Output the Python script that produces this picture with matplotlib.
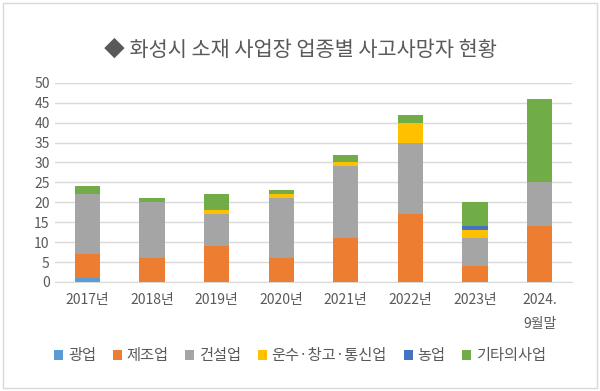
import numpy as np
import matplotlib.pyplot as plt
from matplotlib.patches import Rectangle

plt.rcParams['font.family'] = ['Noto Sans CJK KR', 'DejaVu Sans']

years = ['2017년', '2018년', '2019년', '2020년', '2021년', '2022년', '2023년', '2024.\n9월말']
series = ['광업', '제조업', '건설업', '운수·창고·통신업', '농업', '기타의사업']
mining = [1, 0, 0, 0, 0, 0, 0, 0]
manufacturing = [6, 6, 9, 6, 11, 17, 4, 14]
construction = [15, 14, 8, 15, 18, 18, 7, 11]
transport = [0, 0, 1, 1, 1, 5, 2, 0]
farming = [0, 0, 0, 0, 0, 0, 1, 0]
others = [2, 1, 4, 1, 2, 2, 6, 21]
colors = ['#5B9BD5', '#ED7D31', '#A5A5A5', '#FFC000', '#4472C4', '#70AD47']

fig = plt.figure(figsize=(6, 3.91), dpi=100)
ax = fig.add_axes([0.092, 0.279, 0.861, 0.509])

x = np.arange(len(years))
bottom = np.zeros(len(years))
for name, vals, c in zip(series, [mining, manufacturing, construction, transport, farming, others], colors):
    ax.bar(x, vals, 0.39, bottom=bottom, color=c, label=name, zorder=3)
    bottom += np.array(vals)

ax.set_ylim(0, 50)
ax.set_xlim(-0.5, len(years) - 0.5)
ax.set_yticks(range(0, 51, 5))
ax.yaxis.grid(True, color='#D9D9D9', linewidth=1, zorder=0)
for s in ['top', 'right', 'left']:
    ax.spines[s].set_visible(False)
ax.spines['bottom'].set_color('#D9D9D9')
ax.set_xticks(x)
ax.set_xticklabels(years, linespacing=1.9)
ax.tick_params(axis='both', length=0, labelsize=10, colors='#595959', pad=8)
ax.tick_params(axis='y', pad=4)

fig.suptitle('◆ 화성시 소재 사업장 업종별 사고사망자 현황', x=0.5, y=0.9,
             fontsize=15, color='#595959', family=['Noto Sans CJK KR', 'DejaVu Sans'])

leg = fig.legend(loc='center', bbox_to_anchor=(0.5, 0.09), ncol=6, frameon=False,
                 fontsize=11, handlelength=0.6, handleheight=0.6, handletextpad=0.3,
                 columnspacing=1.1)
for t in leg.get_texts():
    t.set_color('#595959')

fig.patches.append(Rectangle((0.005, 0.008), 0.99, 0.984, transform=fig.transFigure,
                             fill=False, edgecolor='#D9D9D9', linewidth=1))

plt.savefig('out.png', dpi=100)
